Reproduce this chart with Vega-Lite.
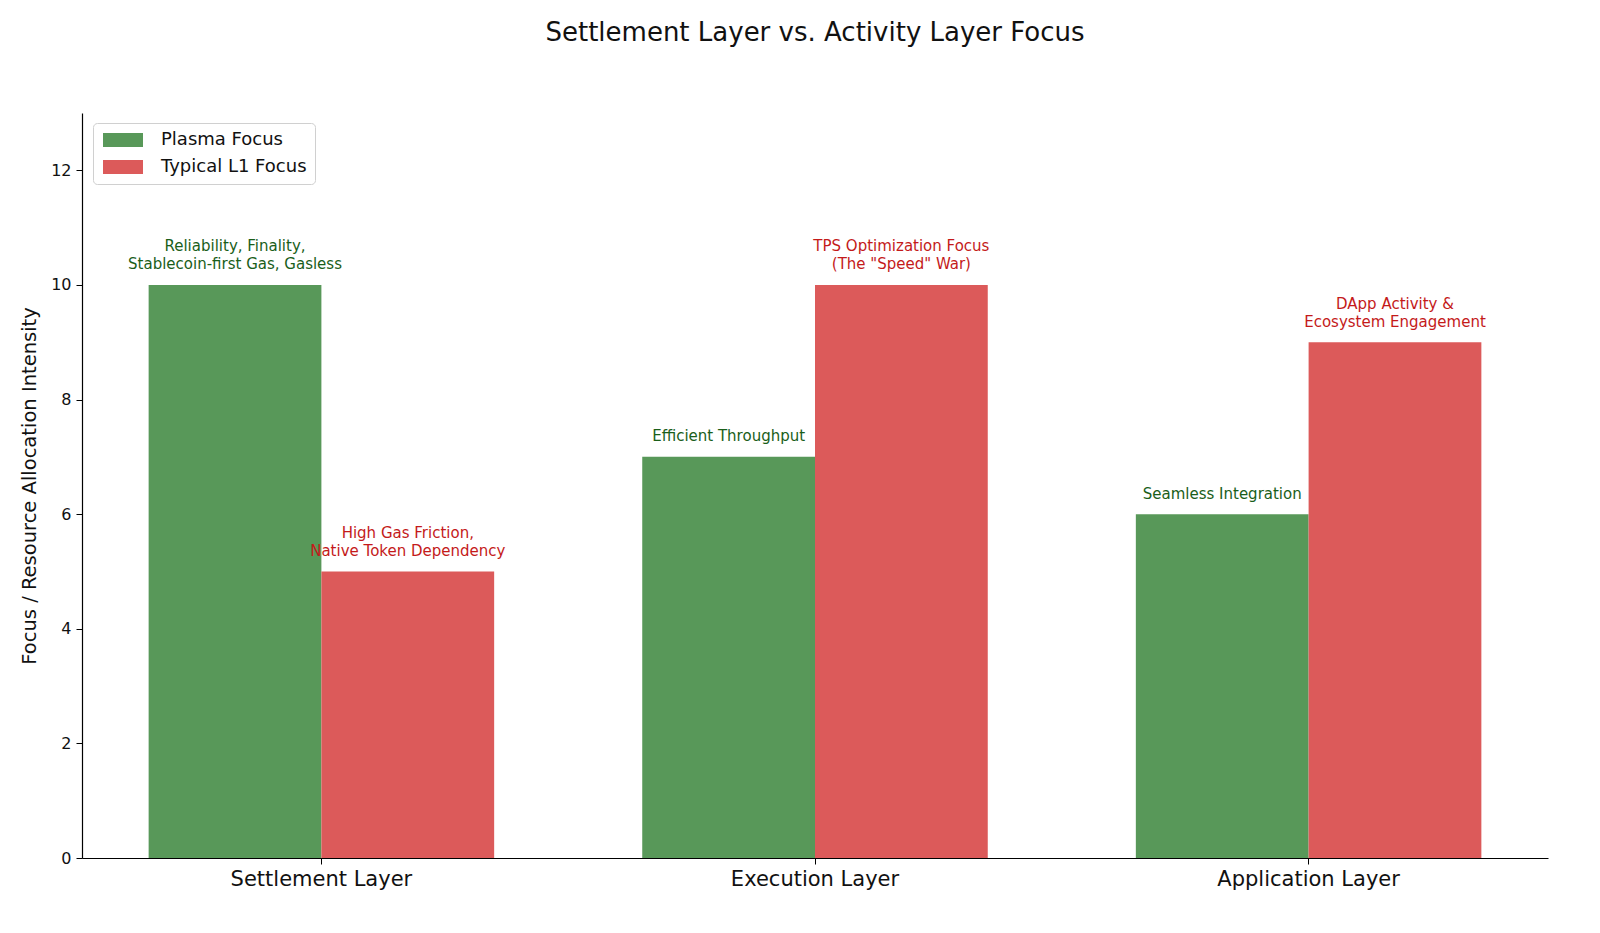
{
  "$schema": "https://vega.github.io/schema/vega-lite/v6.json",
  "width": 1466,
  "height": 745,
  "autosize": {"type": "none"},
  "padding": {"left": 82, "top": 113, "right": 52, "bottom": 75},
  "background": "white",
  "config": {
    "font": "DejaVu Sans",
    "view": {"stroke": null}
  },
  "title": {
    "text": "Settlement Layer vs. Activity Layer Focus",
    "fontSize": 26,
    "fontWeight": "normal",
    "color": "#111111",
    "anchor": "middle",
    "offset": 67
  },
  "data": {
    "values": [
      {"layer": "Settlement Layer", "series": "Plasma Focus", "value": 10, "line1": "Reliability, Finality,", "line2": "Stablecoin-first Gas, Gasless"},
      {"layer": "Settlement Layer", "series": "Typical L1 Focus", "value": 5, "line1": "High Gas Friction,", "line2": "Native Token Dependency"},
      {"layer": "Execution Layer", "series": "Plasma Focus", "value": 7, "line1": "", "line2": "Efficient Throughput"},
      {"layer": "Execution Layer", "series": "Typical L1 Focus", "value": 10, "line1": "TPS Optimization Focus", "line2": "(The \"Speed\" War)"},
      {"layer": "Application Layer", "series": "Plasma Focus", "value": 6, "line1": "", "line2": "Seamless Integration"},
      {"layer": "Application Layer", "series": "Typical L1 Focus", "value": 9, "line1": "DApp Activity &", "line2": "Ecosystem Engagement"}
    ]
  },
  "encoding": {
    "x": {
      "field": "layer",
      "type": "nominal",
      "sort": ["Settlement Layer", "Execution Layer", "Application Layer"],
      "scale": {"paddingInner": 0.3, "paddingOuter": 0.135},
      "axis": {
        "title": null,
        "labelAngle": 0,
        "labelFontSize": 21,
        "labelLimit": 0,
        "labelColor": "#111111",
        "labelPadding": 4,
        "domainColor": "#000000",
        "tickColor": "#000000",
        "tickSize": 6,
        "domainWidth": 1.2
      }
    },
    "xOffset": {
      "field": "series",
      "type": "nominal",
      "scale": {"paddingInner": 0, "paddingOuter": 0}
    },
    "y": {
      "field": "value",
      "type": "quantitative",
      "scale": {"domain": [0, 13], "nice": false},
      "axis": {
        "title": "Focus / Resource Allocation Intensity",
        "titleFontSize": 19.5,
        "titleFontWeight": "normal",
        "titleColor": "#111111",
        "titlePadding": 11,
        "titleLimit": 0,
        "values": [0, 2, 4, 6, 8, 10, 12],
        "labelFontSize": 16,
        "labelColor": "#111111",
        "labelPadding": 5,
        "grid": false,
        "domainColor": "#000000",
        "tickColor": "#000000",
        "tickSize": 6,
        "domainWidth": 1.2
      }
    }
  },
  "layer": [
    {
      "mark": {"type": "bar"},
      "encoding": {
        "color": {
          "field": "series",
          "type": "nominal",
          "scale": {"domain": ["Plasma Focus", "Typical L1 Focus"], "range": ["#589859", "#dc5a5a"]},
          "legend": {
            "title": null,
            "orient": "none",
            "legendX": 11,
            "legendY": 10,
            "direction": "vertical",
            "labelFontSize": 18,
            "labelLimit": 0,
            "labelColor": "#111111",
            "symbolType": "M-1,-1H4.714V1H-1Z",
            "symbolSize": 196,
            "symbolOpacity": 1,
            "symbolStrokeWidth": 0,
            "strokeColor": "#d0d0d0",
            "fillColor": "white",
            "cornerRadius": 4,
            "padding": 8,
            "rowPadding": 9,
            "labelOffset": 42
          }
        }
      }
    },
    {
      "mark": {"type": "text", "baseline": "middle", "dy": -38.5, "fontSize": 15, "align": "center"},
      "encoding": {
        "text": {"field": "line1"},
        "color": {
          "field": "series",
          "type": "nominal",
          "scale": {"domain": ["Plasma Focus", "Typical L1 Focus"], "range": ["#1a5e1a", "#c41a1a"]},
          "legend": null
        }
      }
    },
    {
      "mark": {"type": "text", "baseline": "middle", "dy": -20.5, "fontSize": 15, "align": "center"},
      "encoding": {
        "text": {"field": "line2"},
        "color": {
          "field": "series",
          "type": "nominal",
          "scale": {"domain": ["Plasma Focus", "Typical L1 Focus"], "range": ["#1a5e1a", "#c41a1a"]},
          "legend": null
        }
      }
    }
  ],
  "resolve": {"scale": {"color": "independent"}}
}
